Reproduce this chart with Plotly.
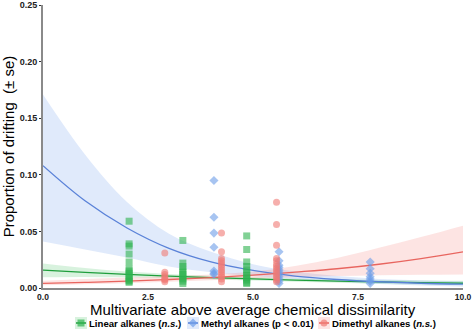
import plotly.graph_objects as go

# ---- data ----
grid_x = [0, 1, 2, 3, 4, 5, 6, 7, 8, 9, 10]

linear_fit = [0.0158, 0.0138, 0.0120, 0.0105, 0.0092, 0.0080, 0.0070, 0.0061, 0.0054, 0.0047, 0.0042]
linear_hi = [0.0217, 0.0176, 0.0145, 0.0123, 0.0107, 0.0094, 0.0084, 0.0077, 0.0071, 0.0067, 0.0064]
linear_lo = [0.0096, 0.0098, 0.0094, 0.0087, 0.0077, 0.0066, 0.0056, 0.0046, 0.0037, 0.0030, 0.0024]

methyl_fit = [0.108, 0.077, 0.053, 0.035, 0.023, 0.0155, 0.0105, 0.0075, 0.0055, 0.0042, 0.0034]
methyl_hi = [0.171, 0.118, 0.076, 0.048, 0.032, 0.021, 0.0145, 0.0105, 0.0080, 0.0068, 0.0060]
methyl_lo = [0.041, 0.034, 0.027, 0.019, 0.014, 0.0105, 0.0080, 0.0055, 0.0035, 0.0022, 0.0012]

dimethyl_fit = [0.0040, 0.0049, 0.0060, 0.0075, 0.0092, 0.0113, 0.0140, 0.0170, 0.0210, 0.0260, 0.0320]
dimethyl_hi = [0.0065, 0.0080, 0.0092, 0.0105, 0.0120, 0.0145, 0.0195, 0.0265, 0.0355, 0.0450, 0.0550]
dimethyl_lo = [0.0025, 0.0033, 0.0043, 0.0055, 0.0068, 0.0082, 0.0095, 0.0105, 0.0113, 0.0117, 0.0120]

linear_x = [2.05] * 13 + [3.33] * 10 + [4.85] * 11
linear_y = [0.059, 0.039, 0.037, 0.030, 0.023, 0.017, 0.015, 0.013, 0.011, 0.009, 0.007, 0.006, 0.005,
            0.042, 0.022, 0.019, 0.016, 0.014, 0.012, 0.010, 0.008, 0.006, 0.004,
            0.046, 0.034, 0.023, 0.019, 0.016, 0.013, 0.011, 0.009, 0.007, 0.005, 0.004]

methyl_x = [4.07] * 7 + [5.62] * 11 + [7.79] * 7
methyl_y = [0.095, 0.0625, 0.0485, 0.036, 0.015, 0.013, 0.012,
            0.032, 0.024, 0.020, 0.018, 0.016, 0.014, 0.012, 0.010, 0.008, 0.006, 0.004,
            0.023, 0.017, 0.013, 0.010, 0.008, 0.006, 0.004]

dimethyl_x = [2.9] * 7 + [4.25] * 13 + [5.56] * 14
dimethyl_y = [0.031, 0.014, 0.012, 0.010, 0.008, 0.007, 0.0055,
              0.0485, 0.032, 0.026, 0.024, 0.022, 0.020, 0.018, 0.016, 0.014, 0.012, 0.010, 0.008, 0.0055,
              0.0757, 0.056, 0.0377, 0.026, 0.024, 0.021, 0.019, 0.017, 0.015, 0.013, 0.011, 0.009, 0.007, 0.0055]

x_ticks = [0, 2.5, 5, 7.5, 10]
x_tick_labels = ["0.0", "2.5", "5.0", "7.5", "10.0"]
y_ticks = [0, 0.05, 0.10, 0.15, 0.20, 0.25]
y_tick_labels = ["0.00", "0.05", "0.10", "0.15", "0.20", "0.25"]

groups = [
    dict(name="Linear alkanes (<i>n.s.</i>)", fit=linear_fit, hi=linear_hi, lo=linear_lo,
         px=linear_x, py=linear_y, line="#1f9e3c", pt="#2db34f", band="rgba(60,190,90,0.20)",
         sym="square", key_x=81),
    dict(name="Methyl alkanes (p < 0.01)", fit=methyl_fit, hi=methyl_hi, lo=methyl_lo,
         px=methyl_x, py=methyl_y, line="#5a82d8", pt="#6c9ce8", band="rgba(100,150,235,0.20)",
         sym="diamond", key_x=193),
    dict(name="Dimethyl alkanes (<i>n.s.</i>)", fit=dimethyl_fit, hi=dimethyl_hi, lo=dimethyl_lo,
         px=dimethyl_x, py=dimethyl_y, line="#e8655f", pt="#f07a74", band="rgba(245,120,115,0.20)",
         sym="circle", key_x=324),
]

W, H = 474, 334
L, R, T, B = 43, 463, 5, 288   # plot area in pixels


def px2paper(x, y):
    return (x - L) / (R - L), (B - y) / (B - T)


fig = go.Figure()

# bands
for g in groups:
    fig.add_trace(go.Scatter(x=grid_x, y=g["lo"], mode="lines", line=dict(width=0, shape="spline"),
                             showlegend=False, hoverinfo="skip"))
    fig.add_trace(go.Scatter(x=grid_x, y=g["hi"], mode="lines", line=dict(width=0, shape="spline"),
                             fill="tonexty", fillcolor=g["band"], showlegend=False, hoverinfo="skip"))

# fitted lines
for g in groups:
    fig.add_trace(go.Scatter(x=grid_x, y=g["fit"], mode="lines",
                             line=dict(color=g["line"], width=1.3, shape="spline"), showlegend=False))

# points
for g in groups:
    fig.add_trace(go.Scatter(x=g["px"], y=g["py"], mode="markers",
                             marker=dict(symbol=g["sym"], size=7, color=g["pt"], opacity=0.6, line=dict(width=0)),
                             showlegend=False))

# manual legend (keys as small shapes + bold text), centred at y = 323 px
shapes = []
annotations = []
LEG_Y = 323
for g in groups:
    cx = g["key_x"]
    x0, y0 = px2paper(cx - 6, LEG_Y + 6)
    x1, y1 = px2paper(cx + 6, LEG_Y - 6)
    shapes.append(dict(type="rect", xref="paper", yref="paper", x0=x0, y0=y0, x1=x1, y1=y1,
                       fillcolor=g["band"], line=dict(width=0)))
    lx0, ly = px2paper(cx - 5, LEG_Y)
    lx1, _ = px2paper(cx + 5, LEG_Y)
    shapes.append(dict(type="line", xref="paper", yref="paper", x0=lx0, y0=ly, x1=lx1, y1=ly,
                       line=dict(color=g["line"], width=1.5)))
    if g["sym"] == "square":
        a0, b0 = px2paper(cx - 3.5, LEG_Y + 3.5)
        a1, b1 = px2paper(cx + 3.5, LEG_Y - 3.5)
        shapes.append(dict(type="rect", xref="paper", yref="paper", x0=a0, y0=b0, x1=a1, y1=b1,
                           fillcolor=g["pt"], opacity=0.7, line=dict(width=0)))
    elif g["sym"] == "circle":
        a0, b0 = px2paper(cx - 3.5, LEG_Y + 3.5)
        a1, b1 = px2paper(cx + 3.5, LEG_Y - 3.5)
        shapes.append(dict(type="circle", xref="paper", yref="paper", x0=a0, y0=b0, x1=a1, y1=b1,
                           fillcolor=g["pt"], opacity=0.7, line=dict(width=0)))
    else:
        pts = [px2paper(cx, LEG_Y - 4.5), px2paper(cx + 4.5, LEG_Y), px2paper(cx, LEG_Y + 4.5),
               px2paper(cx - 4.5, LEG_Y)]
        path = "M " + " L ".join(f"{p[0]:.5f},{p[1]:.5f}" for p in pts) + " Z"
        shapes.append(dict(type="path", xref="paper", yref="paper", path=path,
                           fillcolor=g["pt"], opacity=0.7, line=dict(width=0)))
    tx, ty = px2paper(cx + 5.5, LEG_Y)
    annotations.append(dict(text="<b>" + g["name"] + "</b>", xref="paper", yref="paper", x=tx, y=ty,
                            xanchor="left", yanchor="middle", showarrow=False,
                            font=dict(size=9.6, color="black")))

annotations.append(dict(text="Multivariate above average chemical dissimilarity",
                        xref="paper", x=0.5, xanchor="center",
                        yref="paper", y=-(299 - B) / (B - T), yanchor="top",
                        showarrow=False, font=dict(size=15, color="black")))

fig.update_layout(
    width=W, height=H,
    margin=dict(l=L, r=W - R, t=T, b=H - B, autoexpand=False),
    plot_bgcolor="white", paper_bgcolor="white",
    showlegend=False,
    font=dict(family="Liberation Sans, Arial, sans-serif", color="black"),
    xaxis=dict(range=[0, 10], tickvals=x_ticks, ticktext=x_tick_labels,
               showgrid=False, zeroline=False, showline=True, linecolor="#8a8a8a", linewidth=2,
               ticks="", ticklen=0,
               tickfont=dict(size=8.5, weight="bold", color="#222")),
    yaxis=dict(range=[0, 0.25], tickvals=y_ticks, ticktext=y_tick_labels,
               showgrid=False, zeroline=False, showline=True, linecolor="#8a8a8a", linewidth=2,
               ticks="outside", ticklen=2, tickcolor="#333", tickwidth=1,
               tickfont=dict(size=9, weight="bold", color="#222"),
               title=dict(text="Proportion of drifting\u00a0\u00a0(\u00b1 se)", font=dict(size=15), standoff=4)),
    shapes=shapes,
    annotations=annotations,
)

fig.write_html("out.html")
